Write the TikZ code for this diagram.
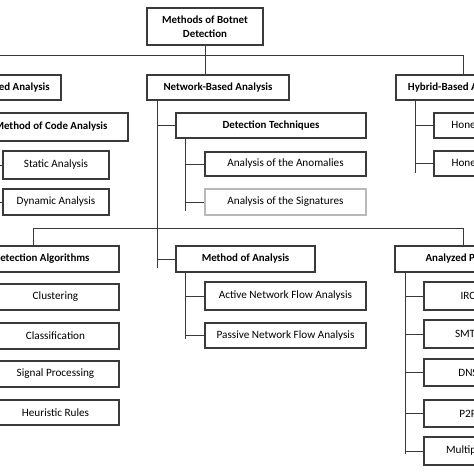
\documentclass[tikz,border=0pt]{standalone}
\usepackage{fontspec}
\setmainfont{Carlito}
\definecolor{linegray}{HTML}{3A3A3A}
\begin{document}
\begin{tikzpicture}[x = 1pt, y = -1pt,
  box/.style = {draw = linegray, line width = 1.1pt, inner sep = 0pt, font = \fontsize{11.2}{13}\selectfont},
  head/.style = {box, font = \fontsize{10.9}{13.5}\selectfont\bfseries},
  link/.style = {draw = linegray, line width = 1pt}]
\useasboundingbox (0, 0) rectangle (474, 474);
%\draw [very thin, color = gray](0, 0) grid [step = 20] (474, 474);
\node [head, minimum width = 116pt, minimum height = 37pt, align = center] (root) at (205, 26.5) {Methods of Botnet\\Detection};
\node [head, minimum width = 113pt, minimum height = 25pt] (host) at (4.5, 87.5) {Host-Based Analysis};
\node [head, minimum width = 142pt, minimum height = 25pt] (network) at (218, 87.5) {Network-Based Analysis};
\node [head, minimum width = 124pt, minimum height = 25pt] (hybrid) at (458, 87.5) {Hybrid-Based Analysis};
\node [head, minimum width = 154pt, minimum height = 28pt] (code) at (51, 127) {Method of Code Analysis};
\node [box, minimum width = 106pt, minimum height = 28pt] (static) at (56, 165) {Static Analysis};
\node [box, minimum width = 106pt, minimum height = 26pt] (dynamic) at (56, 202) {Dynamic Analysis};
\node [head, minimum width = 190pt, minimum height = 25pt] (techniques) at (271, 125.5) {Detection Techniques};
\node [box, minimum width = 161pt, minimum height = 24pt] (anomalies) at (285.5, 164) {Analysis of the Anomalies};
\node [box, draw = gray!55, minimum width = 161pt, minimum height = 26pt] (signatures) at (285.5, 202) {Analysis of the Signatures};
\node [box, minimum width = 84pt, minimum height = 25pt] (honeypots) at (476, 125.5) {Honeypots};
\node [box, minimum width = 84pt, minimum height = 25pt] (honeynets) at (476, 163.5) {Honeynets};
\node [head, minimum width = 155pt, minimum height = 26pt] (algorithms) at (41.5, 259) {Detection Algorithms};
\node [box, minimum width = 127pt, minimum height = 26pt] (clustering) at (55.5, 297) {Clustering};
\node [box, minimum width = 127pt, minimum height = 26pt] (classification) at (55.5, 336) {Classification};
\node [box, minimum width = 127pt, minimum height = 26pt] (signal) at (55.5, 374) {Signal Processing};
\node [box, minimum width = 127pt, minimum height = 25pt] (heuristic) at (55.5, 412.5) {Heuristic Rules};
\node [head, minimum width = 139pt, minimum height = 26pt] (methanalysis) at (245.5, 259) {Method of Analysis};
\node [box, minimum width = 161pt, minimum height = 28pt] (active) at (285.5, 296) {Active Network Flow Analysis};
\node [box, minimum width = 161pt, minimum height = 25pt] (passive) at (285.5, 335.5) {Passive Network Flow Analysis};
\node [head, minimum width = 147pt, minimum height = 26pt] (protocols) at (468.5, 259) {Analyzed Protocols};
\node [box, minimum width = 88pt, minimum height = 28pt] (irc) at (468, 296) {IRC};
\node [box, minimum width = 88pt, minimum height = 28pt] (smtp) at (468, 334) {SMTP};
\node [box, minimum width = 88pt, minimum height = 27pt] (dns) at (468, 372.5) {DNS};
\node [box, minimum width = 88pt, minimum height = 27pt] (ptop) at (468, 413.5) {P2P};
\node [box, minimum width = 88pt, minimum height = 28pt] (multiport) at (468, 451) {Multiport};
% bars and trunks
\coordinate (topbarL) at (0, 55);
\coordinate (topbarR) at (463, 55);
\coordinate (midbarL) at (33, 228);
\coordinate (midbarR) at (463, 228);
\coordinate (nettrunk) at (157, 268);
\coordinate (codetrunk) at (-12, 210);
\coordinate (techtrunk) at (185, 211);
\coordinate (hybtrunk) at (415, 173);
\coordinate (methtrunk) at (185, 339);
\coordinate (prottrunk) at (405, 454);
\draw [link] (root.south) to (root.south |- network.north);
\draw [link] (topbarL) to (topbarR) to (topbarR |- hybrid.north);
\draw [link] (midbarL |- algorithms.north) to (midbarL) to (midbarR) to (midbarR |- protocols.north);
\draw [link] (nettrunk |- network.south) to (nettrunk);
\draw [link] (nettrunk |- techniques.west) to (techniques.west);
\draw [link] (nettrunk |- methanalysis.west) to (methanalysis.west);
\draw [link] (codetrunk |- code.south) to (codetrunk);
\draw [link] (codetrunk |- static.west) to (static.west);
\draw [link] (codetrunk |- dynamic.west) to (dynamic.west);
\draw [link] (techtrunk |- techniques.south) to (techtrunk);
\draw [link] (techtrunk |- anomalies.west) to (anomalies.west);
\draw [link] (techtrunk |- signatures.west) to (signatures.west);
\draw [link] (hybtrunk |- hybrid.south) to (hybtrunk);
\draw [link] (hybtrunk |- honeypots.west) to (honeypots.west);
\draw [link] (hybtrunk |- honeynets.west) to (honeynets.west);
\draw [link] (methtrunk |- methanalysis.south) to (methtrunk);
\draw [link] (methtrunk |- active.west) to (active.west);
\draw [link] (methtrunk |- passive.west) to (passive.west);
\draw [link] (prottrunk |- protocols.south) to (prottrunk);
\foreach \p in {irc, smtp, dns, ptop, multiport}
  \draw [link] (prottrunk |- \p.west) to (\p.west);
\end{tikzpicture}
\end{document}
